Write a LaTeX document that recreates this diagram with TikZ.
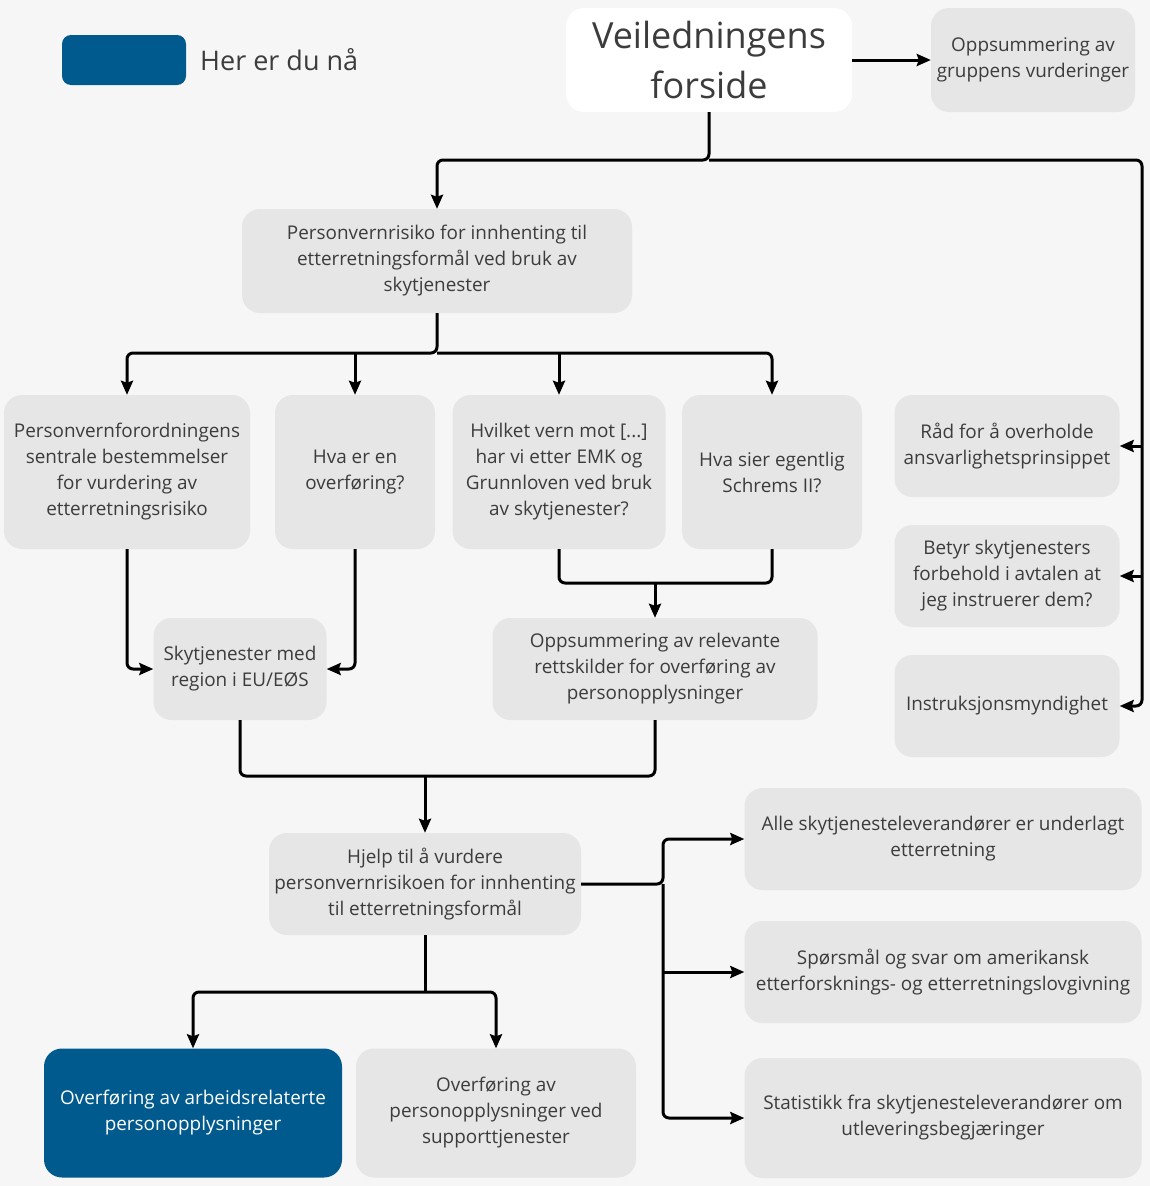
\documentclass[tikz,border=0pt]{standalone}
\usepackage{fontspec}
\setmainfont{Open Sans}
\usetikzlibrary{arrows.meta}
\definecolor{bg}{HTML}{F6F6F6}
\definecolor{boxgray}{HTML}{E6E6E6}
\definecolor{herblue}{HTML}{005A8E}
\definecolor{txt}{HTML}{3C3C3C}
\tikzset{
  box/.style={rounded corners=18pt, fill=boxgray, align=center, text=txt, inner sep=2pt,
    font=\fontsize{18.9}{26}\selectfont},
  conn/.style={line width=3pt, rounded corners=6pt, draw=black},
  arr/.style={conn, -{Stealth[length=14pt,width=12pt,inset=2pt]}},
}
\begin{document}
\begin{tikzpicture}[x=1pt,y=-1pt]
\path[fill=bg] (0,0) rectangle (1150,1186);
\useasboundingbox (0,0) rectangle (1150,1186);

% legend
\node[box, fill=herblue, rounded corners=9pt, minimum width=124pt, minimum height=50pt] (leg) at (124,60) {};
\node[anchor=west, text=txt, font=\fontsize{27}{32}\selectfont, inner sep=0pt] (legt) at (200,60) {Her er du nå};

% top
\node[box, fill=white, font=\fontsize{36}{50}\selectfont, minimum width=286pt, minimum height=104pt] (V) at (709,60) {Veiledningens\\forside};
\node[box, minimum width=204pt, minimum height=104pt] (O) at (1033,60) {Oppsummering av\\gruppens vurderinger};

\node[box, minimum width=390pt, minimum height=104pt] (A) at (437,261) {Personvernrisiko for innhenting til\\etterretningsformål ved bruk av\\skytjenester};

\node[box, minimum width=246pt, minimum height=154pt] (B1) at (127,472) {Personvernforordningens\\sentrale bestemmelser\\for vurdering av\\etterretningsrisiko};
\node[box, minimum width=160pt, minimum height=154pt] (B2) at (355,472) {Hva er en\\overføring?};
\node[box, minimum width=213pt, minimum height=154pt] (B3) at (559,472) {Hvilket vern mot [...]\\har vi etter EMK og\\Grunnloven ved bruk\\av skytjenester?};
\node[box, minimum width=180pt, minimum height=154pt] (B4) at (772,472) {Hva sier egentlig\\Schrems II?};

\node[box, minimum width=225pt, minimum height=102pt] (R1) at (1007,446) {Råd for å overholde\\ansvarlighetsprinsippet};
\node[box, minimum width=225pt, minimum height=102pt] (R2) at (1007,576) {Betyr skytjenesters\\forbehold i avtalen at\\jeg instruerer dem?};
\node[box, minimum width=225pt, minimum height=102pt] (R3) at (1007,706) {Instruksjonsmyndighet};

\node[box, minimum width=173pt, minimum height=102pt] (C1) at (240,669) {Skytjenester med\\region i EU/EØS};
\node[box, minimum width=325pt, minimum height=102pt] (C2) at (655,669) {Oppsummering av relevante\\rettskilder for overføring av\\personopplysninger};

\node[box, minimum width=312pt, minimum height=102pt] (D) at (425,884) {Hjelp til å vurdere\\personvernrisikoen for innhenting\\til etterretningsformål};

\node[box, minimum width=397pt, minimum height=102pt] (E1) at (943,839) {Alle skytjenesteleverandører er underlagt\\etterretning};
\node[box, minimum width=397pt, minimum height=102pt] (E2) at (943,972) {Spørsmål og svar om amerikansk\\etterforsknings- og etterretningslovgivning};
\node[box, minimum width=397pt, minimum height=120pt] (E3) at (943,1118) {Statistikk fra skytjenesteleverandører om\\utleveringsbegjæringer};

\node[box, fill=herblue, text=white, minimum width=298pt, minimum height=129pt] (F1) at (193,1113) {Overføring av arbeidsrelaterte\\personopplysninger};
\node[box, minimum width=280pt, minimum height=129pt] (F2) at (496,1113) {Overføring av\\personopplysninger ved\\supporttjenester};

% junction coordinates
\coordinate (j1) at (709,160);
\coordinate (rx1) at (1142,446);
\coordinate (rx2) at (1142,576);
\coordinate (ja) at (437,353);
\coordinate (jb2) at (355,353);
\coordinate (jb3) at (559,353);
\coordinate (j2) at (655,583);
\coordinate (j3) at (425,776);
\coordinate (j4) at (663,884);
\coordinate (j5) at (425,992);

% connectors
\draw[arr] (V.east) -- (O.west);
\draw[arr] (V.south) -- (j1) -| (A.north);
\draw[arr] (j1) -| (rx2) |- (R3.east);
\draw[arr] (rx1) -- (R1.east);
\draw[arr] (rx2) -- (R2.east);

\draw[arr] (A.south) -- (ja) -| (B1.north);
\draw[arr] (ja) -| (B4.north);
\draw[arr] (jb2) -- (B2.north);
\draw[arr] (jb3) -- (B3.north);

\draw[arr] (B1.south) |- (C1.west);
\draw[arr] (B2.south) |- (C1.east);

\draw[conn] (B3.south) |- (j2);
\draw[conn] (B4.south) |- (j2);
\draw[arr] (j2) -- (C2.north);

\draw[conn] (C1.south) |- (j3);
\draw[conn] (C2.south) |- (j3);
\draw[arr] (j3) -- (D.north);

\draw[arr] (D.east) -- (j4) |- (E1.west);
\draw[arr] (j4) |- (E3.west);
\draw[arr] (j4 |- E2.west) -- (E2.west);

\draw[conn] (D.south) -- (j5);
\draw[arr] (j5) -| (F1.north);
\draw[arr] (j5) -| (F2.north);
\end{tikzpicture}
\end{document}
